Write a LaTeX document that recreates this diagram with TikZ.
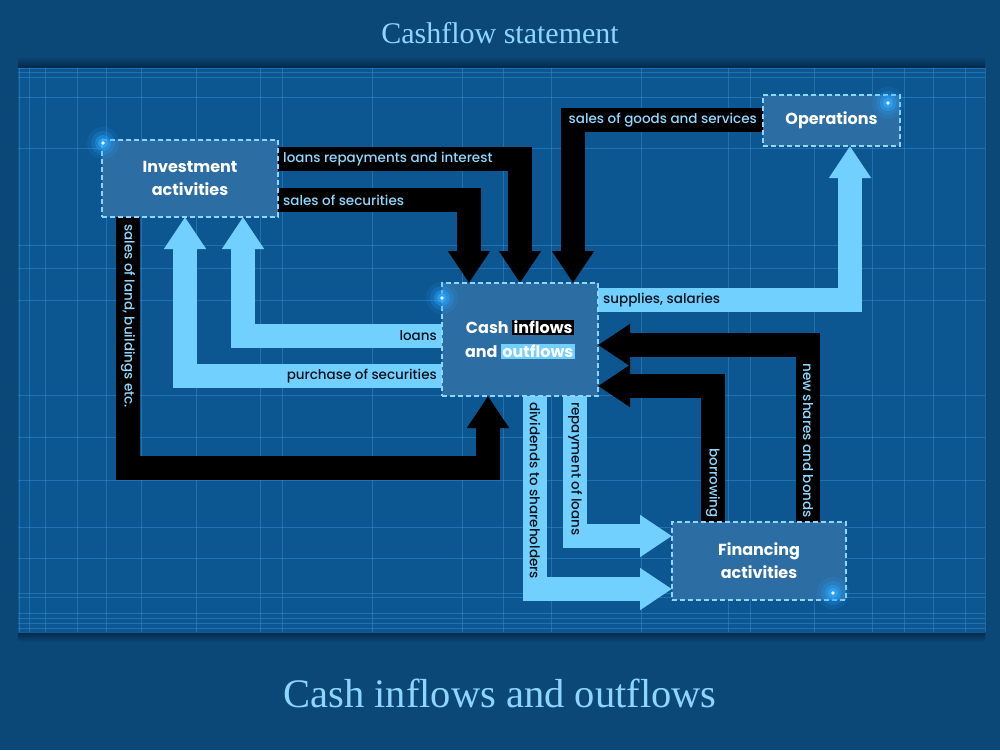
\documentclass[tikz,border=0pt]{standalone}
\usepackage{fontspec}
\setmainfont{Liberation Serif}
\newfontfamily\cfsans{Poppins}
\newfontfamily\cfmed{Poppins Medium}
\usetikzlibrary{arrows.meta,positioning,calc}
\definecolor{CFBack}{HTML}{0B4878}
\definecolor{CFPanel}{HTML}{0C5692}
\definecolor{CFShadow}{HTML}{03284A}
\definecolor{CFGrid}{HTML}{3A92D6}
\definecolor{CFBox}{HTML}{2C6DA4}
\definecolor{CFDash}{HTML}{8ED6FF}
\definecolor{CFLight}{HTML}{72D0FF}
\definecolor{CFTag}{HTML}{8FD8FF}
\definecolor{CFTitle}{HTML}{8FD6FF}
\definecolor{CFGlow}{HTML}{2AA8FF}
\definecolor{CFInk}{HTML}{06121E}
\tikzset{
  band/.style={line width=24pt,line join=miter,-{Triangle[length=32pt,width=40pt]}},
  flowdark/.style={band,black},
  flowlight/.style={band,CFLight},
  box/.style={draw=CFDash,line width=1.4pt,dash pattern=on 5pt off 3pt,fill=CFBox,
              text=white,outer sep=0pt,align=center,
              font=\cfsans\bfseries\fontsize{16}{23}\selectfont},
  tag/.style={text=CFTag,inner sep=0pt,font=\cfmed\fontsize{13.5}{15}\selectfont},
  tagdark/.style={tag,text=CFInk},
  gridline/.style={CFGrid,line width=0.6pt,opacity=0.45},
  title/.style={text=CFTitle,font=\fontsize{30}{34}\selectfont},
  bigtitle/.style={title,font=\fontsize{40.5}{46}\selectfont},
}

\begin{document}
\begin{tikzpicture}[x=1pt,y=-1pt]
  \useasboundingbox (0,0) rectangle (1000,750);
  \fill[CFBack] (0,0) rectangle (1000,750);
  \shade[top color=CFBack,bottom color=CFShadow] (18,56) rectangle (985,68);
  \fill[CFPanel] (18,68) rectangle (985,632);
  \shade[top color=CFShadow,bottom color=CFBack] (18,632) rectangle (985,642);

  % grid
  \foreach \gx in {19,29,45,77,106,141,196,260,282,372,462,503,551,641,728,750,814,872,904,933,965,985}
    \draw[gridline] (\gx,68) -- (\gx,632);
  \foreach \gy in {68,72,77,97,148,245,268,300,395,437,480,527,558,593,597,613,618,623,628,632}
    \draw[gridline] (18,\gy) -- (985,\gy);

  % titles
  \node[title] (titletop) at (500,33) {Cashflow statement};
  \node[bigtitle] (titlebottom) at (500,693) {Cash inflows and outflows};

  % boxes (placed first so the bands can use their anchors)
  \path node[box,minimum width=176pt,minimum height=77pt] (inv) at (190,178.5) {}
        node[box,minimum width=137pt,minimum height=51pt] (ops) at (831.5,120.5) {}
        node[box,minimum width=156pt,minimum height=113pt] (cash) at (520,339.5) {}
        node[box,minimum width=174pt,minimum height=78pt] (fin) at (759,561) {};

  % inflows
  \draw[flowdark] (inv.east |- 0,159) -| (520,0 |- cash.north);
  \draw[flowdark] (inv.east |- 0,200) -| (469,0 |- cash.north);
  \draw[flowdark] (ops.west |- 0,120) -| (573,0 |- cash.north);
  \draw[flowdark] (128,0 |- inv.south) |- (488,468) -- (488,0 |- cash.south);
  \draw[flowdark] (808,0 |- fin.north) |- (cash.east |- 0,345);
  \draw[flowdark] (713,0 |- fin.north) |- (cash.east |- 0,386);

  % outflows
  \draw[flowlight] (cash.west |- 0,336) -| (243,0 |- inv.south);
  \draw[flowlight] (cash.west |- 0,376) -| (185,0 |- inv.south);
  \draw[flowlight] (cash.east |- 0,300) -| (850,0 |- ops.south);
  \draw[flowlight] (535,0 |- cash.south) |- (fin.west |- 0,589);
  \draw[flowlight] (575,0 |- cash.south) |- (fin.west |- 0,536);

  % boxes again on top of the band ends
  \node[box,minimum width=176pt,minimum height=77pt] (invtop) at (inv) {Investment\\activities};
  \node[box,minimum width=137pt,minimum height=51pt] (opstop) at (ops) {Operations};
  \node[box,minimum width=174pt,minimum height=78pt] (fintop) at (fin) {Financing\\activities};
  \node[box,minimum width=156pt,minimum height=113pt,font=\cfsans\bfseries\fontsize{16}{24}\selectfont]
    (cashtop) at (cash) {Cash {\setlength{\fboxsep}{1.5pt}\colorbox{black}{inflows}}\\
                         and {\setlength{\fboxsep}{1.5pt}\colorbox{CFLight}{outflows}}};

  % band labels
  \node[tag,anchor=west] (lbrepay) at (283,159) {loans repayments and interest};
  \node[tag,anchor=west] (lbsecsale) at (283,200) {sales of securities};
  \node[tag,anchor=east] (lbgoods) at (757,120) {sales of goods and services};
  \node[tag,anchor=west,rotate=-90] (lbland) at (128,224) {sales of land, buildings etc.};
  \node[tag,anchor=east,rotate=-90] (lbborrow) at (713,518) {borrowing};
  \node[tag,anchor=east,rotate=-90] (lbshares) at (808,518) {new shares and bonds};
  \node[tagdark,anchor=east] (lbloans) at (437,336) {loans};
  \node[tagdark,anchor=east] (lbpurchase) at (437,376) {purchase of securities};
  \node[tagdark,anchor=west] (lbsupplies) at (603,300) {supplies, salaries};
  \node[tagdark,anchor=west,rotate=-90] (lbdividend) at (535,402) {dividends to shareholders};
  \node[tagdark,anchor=west,rotate=-90] (lbrepayloan) at (575,402) {repayment of loans};

  % glowing corner dots
  \foreach \gx/\gy in {103/143,888/103,442/298,833/593}{
    \foreach \r/\o in {16/0.12,12/0.2,8/0.38,5/0.7}
      \fill[CFGlow,opacity=\o] (\gx,\gy) circle (\r);
    \fill[white] (\gx,\gy) circle (1.8);
  }
\end{tikzpicture}
\end{document}
